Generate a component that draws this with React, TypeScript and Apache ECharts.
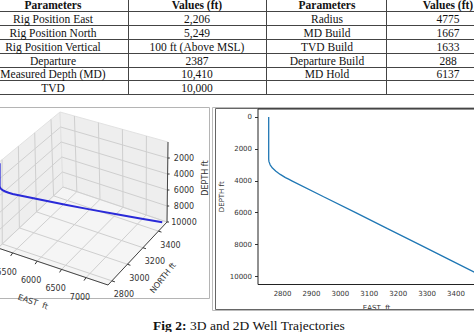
import React, { useEffect, useRef } from "react";
import * as echarts from "echarts";

// ---------- table data ----------
const tableHeaders = ["Parameters", "Values (ft)", "Parameters", "Values (ft)"];
const tableParamsLeft = ["Rig Position East", "Rig Position North", "Rig Position Vertical", "Departure", "Measured Depth (MD)", "TVD"];
const tableValuesLeft = ["2,206", "5,249", "100 ft (Above MSL)", "2387", "10,410", "10,000"];
const tableParamsRight = ["Radius", "MD Build", "TVD Build", "Departure Build", "MD Hold", ""];
const tableValuesRight = ["4775", "1667", "1633", "288", "6137", ""];

// ---------- trajectory data ----------
const depthFt = [0, 1000, 2000, 2650, 2800, 3000, 3200, 3400, 3600, 3800, 3900, 4000, 5000, 6000, 7000, 8000, 9000, 10000];
const northFt = [2752, 2752, 2752, 2752, 2753, 2757, 2765, 2777, 2792, 2810, 2821, 2832, 2942, 3053, 3163, 3274, 3384, 3494];
const eastFt = [5230, 5230, 5230, 5230, 5233, 5244, 5268, 5302, 5346, 5398, 5429, 5461, 5779, 6100, 6418, 6739, 7056, 7374];

// ---------- tick labels ----------
const ticks2DX = [2800, 2900, 3000, 3100, 3200, 3300, 3400];
const ticks2DY = [0, 2000, 4000, 6000, 8000, 10000];
const ticks3DEast = [5500, 6000, 6500, 7000];
const ticks3DNorth = [2800, 3000, 3200, 3400];
const ticks3DDepth = [2000, 4000, 6000, 8000, 10000];

// 3D axis limits
const E_LIM = [5200, 7450];
const N_LIM = [2750, 3510];
const D_LIM = [0, 10000];

// screen corners of the 3D box: key = e n d (0 = min, 1 = max; d=1 is floor)
const CORNERS: Record<string, number[]> = {
  "000": [-2, 163], "100": [108, 195], "010": [60, 112], "110": [168, 142],
  "001": [-2, 248], "101": [108, 285], "011": [63, 187], "111": [167, 222],
};

function lerp(a: number[], b: number[], t: number) {
  return [a[0] + (b[0] - a[0]) * t, a[1] + (b[1] - a[1]) * t];
}
function proj(e: number, n: number, d: number) {
  const u = (e - E_LIM[0]) / (E_LIM[1] - E_LIM[0]);
  const v = (n - N_LIM[0]) / (N_LIM[1] - N_LIM[0]);
  const w = (d - D_LIM[0]) / (D_LIM[1] - D_LIM[0]);
  const face = (k: string) => {
    const a = lerp(CORNERS["0" + "0" + k], CORNERS["1" + "0" + k], u);
    const b = lerp(CORNERS["0" + "1" + k], CORNERS["1" + "1" + k], u);
    return lerp(a, b, v);
  };
  return lerp(face("0"), face("1"), w);
}

const SERIF = '"Liberation Serif", "Times New Roman", serif';
const SANS = '"DejaVu Sans", sans-serif';

function txt(text: string, x: number, y: number, font: string, opts: any = {}) {
  return {
    type: "text",
    x,
    y,
    rotation: opts.rotation || 0,
    z: 50,
    style: {
      text,
      font,
      fill: opts.fill || "#111",
      align: opts.align || "center",
      verticalAlign: "middle",
      textAlign: opts.align || "center",
      textVerticalAlign: "middle",
    },
  };
}
function ln(x1: number, y1: number, x2: number, y2: number, stroke: string, lw = 1, z = 10) {
  return { type: "line", z, shape: { x1, y1, x2, y2 }, style: { stroke, lineWidth: lw } };
}

function build3D() {
  const g: any[] = [];
  const [e0, e1] = E_LIM, [n0, n1] = N_LIM, [d0, d1] = D_LIM;
  const paneWall = "#eeeeee";
  const paneFloor = "#f5f5f5";
  const grid = "#cfcfcf";
  g.push({ type: "polygon", z: 5, shape: { points: [proj(e0, n0, d0), proj(e0, n1, d0), proj(e0, n1, d1), proj(e0, n0, d1)] }, style: { fill: paneWall, stroke: "#e2e2e2", lineWidth: 1 } });
  g.push({ type: "polygon", z: 5, shape: { points: [proj(e0, n1, d0), proj(e1, n1, d0), proj(e1, n1, d1), proj(e0, n1, d1)] }, style: { fill: paneWall, stroke: "#e2e2e2", lineWidth: 1 } });
  g.push({ type: "polygon", z: 5, shape: { points: [proj(e0, n0, d1), proj(e1, n0, d1), proj(e1, n1, d1), proj(e0, n1, d1)] }, style: { fill: paneFloor, stroke: "#e2e2e2", lineWidth: 1 } });
  const pl = (pts: number[][], stroke: string, lw: number, z = 8) => ({ type: "polyline", z, shape: { points: pts }, style: { stroke, lineWidth: lw, fill: null } });
  ticks3DEast.forEach((e) => {
    g.push(pl([proj(e, n0, d1), proj(e, n1, d1), proj(e, n1, d0)], grid, 1));
  });
  ticks3DNorth.forEach((n) => {
    g.push(pl([proj(e1, n, d1), proj(e0, n, d1), proj(e0, n, d0)], grid, 1));
  });
  ticks3DDepth.forEach((d) => {
    g.push(pl([proj(e0, n0, d), proj(e0, n1, d), proj(e1, n1, d)], grid, 1));
  });
  g.push(pl([proj(e0, n0, d1), proj(e1, n0, d1)], "#444", 1, 12));
  g.push(pl([proj(e1, n0, d1), proj(e1, n1, d1)], "#444", 1, 12));
  g.push(pl([proj(e1, n1, d1), proj(e1, n1, d0)], "#444", 1, 12));
  const traj = depthFt.map((d, i) => proj(eastFt[i], northFt[i], d));
  g.push({ type: "polyline", z: 20, shape: { points: traj }, style: { stroke: "#2a2ad8", lineWidth: 2, fill: null } });
  const f3 = `8px ${SANS}`;
  ticks3DEast.forEach((e) => {
    const p = proj(e, n0, d1);
    g.push(ln(p[0], p[1], p[0] - 2, p[1] + 3, "#333", 1, 12));
    g.push(txt(String(e), p[0] - 6, p[1] + 19.5, f3, { fill: "#333" }));
  });
  ticks3DNorth.forEach((n) => {
    const p = proj(e1, n, d1);
    g.push(ln(p[0], p[1], p[0] + 3, p[1] + 1, "#333", 1, 12));
    g.push(txt(String(n), p[0] + 12, p[1] + 14, f3, { fill: "#333" }));
  });
  ticks3DDepth.forEach((d) => {
    const p = proj(e1, n1, d);
    g.push(ln(p[0], p[1], p[0] + 2, p[1], "#333", 1, 12));
    g.push(txt(String(d), 184, p[1], f3, { fill: "#333" }));
  });
  g.push(txt("EAST  ft", 33, 302, f3, { fill: "#333", rotation: -0.33 }));
  g.push(txt("NORTH ft", 163, 278, f3, { fill: "#333", rotation: 0.9 }));
  g.push(txt("DEPTH ft", 205, 178, f3, { fill: "#333", rotation: Math.PI / 2 }));
  return g;
}

function buildTable() {
  const g: any[] = [];
  const rowY = [11.5, 25.5, 39.5, 53.5, 67.5, 80.5, 94.5];
  const colX = [128.5, 266.5, 386.5];
  const centers = [53, 197, 327, 448];
  rowY.forEach((y) => g.push(ln(-5, y, 480, y, "#444", 1, 30)));
  colX.forEach((x) => g.push(ln(x, -2, x, 94.5, "#444", 1, 30)));
  const hf = `bold 11.5px ${SERIF}`;
  const bf = `11.5px ${SERIF}`;
  tableHeaders.forEach((h, i) => g.push(txt(h, centers[i], 5, hf)));
  const cols = [tableParamsLeft, tableValuesLeft, tableParamsRight, tableValuesRight];
  cols.forEach((col, ci) => {
    col.forEach((t, ri) => {
      if (t) g.push(txt(t, centers[ci], (rowY[ri] + rowY[ri + 1]) / 2, bf));
    });
  });
  return g;
}

export default function App() {
  const ref = useRef<HTMLDivElement>(null);
  useEffect(() => {
    if (!ref.current) return;
    const chart = echarts.init(ref.current, undefined, { renderer: "svg" });
    const axisFont = { fontFamily: SANS, fontSize: 7, color: "#333" };
    const graphic: any[] = [
      { type: "rect", z: 1, shape: { x: -5.5, y: 107.5, width: 215, height: 191 }, style: { fill: "#fff", stroke: "#b4b4b4", lineWidth: 1 } },
      { type: "rect", z: 1, shape: { x: 212.5, y: 107.5, width: 300, height: 203 }, style: { fill: "none", stroke: "#bbbbbb", lineWidth: 1 } },
      { type: "rect", z: 1, shape: { x: 215.5, y: 108.5, width: 300, height: 201 }, style: { fill: "none", stroke: "#666", lineWidth: 1 } },
      ...build3D(),
      ...buildTable(),
      {
        type: "text",
        x: 249,
        y: 325,
        z: 50,
        style: {
          text: "{b|Fig 2:} {r|3D and 2D Well Trajectories}",
          align: "center",
          verticalAlign: "middle",
          textAlign: "center",
          textVerticalAlign: "middle",
          rich: {
            b: { fontFamily: SERIF, fontSize: 13.5, fontWeight: "bold", fill: "#111", color: "#111" },
            r: { fontFamily: SERIF, fontSize: 13.5, fill: "#111", color: "#111" },
          },
        },
      },
    ];
    chart.setOption({
      animation: false,
      backgroundColor: "#fff",
      grid: {
        left: 258, top: 109, width: 237, height: 175.5,
        outerBoundsMode: "none", containLabel: false,
        show: true, borderColor: "#222", borderWidth: 1, backgroundColor: "#fff", z: 3,
      },
      xAxis: {
        type: "value",
        min: 2715,
        max: 3535,
        axisLine: { show: false },
        splitLine: { show: false },
        axisTick: { show: true, customValues: ticks2DX, length: 3, lineStyle: { color: "#333" } },
        axisLabel: { ...axisFont, customValues: ticks2DX, margin: 6, formatter: (v: number) => String(v) },
        name: "EAST  ft",
        nameLocation: "middle",
        nameGap: 20,
        nameTextStyle: axisFont,
      },
      yAxis: {
        type: "value",
        inverse: true,
        min: -500,
        max: 10500,
        axisLine: { show: false },
        splitLine: { show: false },
        axisTick: { show: true, customValues: ticks2DY, length: 3, lineStyle: { color: "#333" } },
        axisLabel: { ...axisFont, customValues: ticks2DY, margin: 6, formatter: (v: number) => String(v) },
        name: "DEPTH ft",
        nameLocation: "middle",
        nameGap: 31,
        nameTextStyle: axisFont,
      },
      series: [
        {
          type: "line",
          data: depthFt.map((d, i) => [northFt[i], d]),
          symbol: "none",
          showSymbol: false,
          lineStyle: { color: "#1f77b4", width: 1.3 },
          z: 5,
        },
      ],
      graphic,
    });
    return () => chart.dispose();
  }, []);
  return <div ref={ref} style={{ position: "absolute", left: 0, top: 0, width: 474, height: 332 }} />;
}
